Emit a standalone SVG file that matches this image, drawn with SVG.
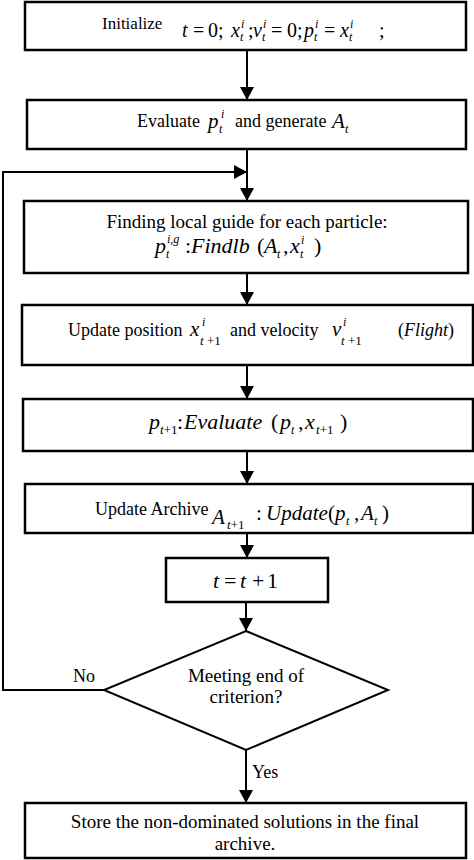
<svg xmlns="http://www.w3.org/2000/svg" width="474" height="860" viewBox="0 0 474 860">
<defs>
<marker id="ah" markerUnits="userSpaceOnUse" markerWidth="14" markerHeight="14" refX="13" refY="7" orient="auto">
<path d="M0,0 L13,7 L0,14 z" fill="#000"/>
</marker>
<style>
.box{fill:#fff;stroke:#000;stroke-width:2.5}
.ln{fill:none;stroke:#000;stroke-width:2}
text{font-family:"Liberation Serif","Times New Roman","DejaVu Serif",serif;fill:#000}
.t{font-size:18px}
.b{font-size:19px}
.m{font-size:21px}
.m2{font-size:22px}
.i{font-style:italic}
.s{font-size:12px;font-style:italic}
.su{font-size:13px}
</style>
</defs>
<rect width="474" height="860" fill="#fff"/>
<g id="connectors">
<line class="ln" x1="247" y1="50" x2="247" y2="100" marker-end="url(#ah)"/>
<line class="ln" x1="247" y1="149" x2="247" y2="201" marker-end="url(#ah)"/>
<polyline class="ln" points="104,690 3,690 3,172 247,172" marker-end="url(#ah)"/>
<line class="ln" x1="247" y1="273" x2="247" y2="305" marker-end="url(#ah)"/>
<line class="ln" x1="247" y1="365" x2="247" y2="399" marker-end="url(#ah)"/>
<line class="ln" x1="247" y1="451" x2="247" y2="484" marker-end="url(#ah)"/>
<line class="ln" x1="247" y1="533" x2="247" y2="558" marker-end="url(#ah)"/>
<line class="ln" x1="246" y1="602" x2="246" y2="631" marker-end="url(#ah)"/>
<line class="ln" x1="246" y1="750" x2="246" y2="803" marker-end="url(#ah)"/>
<text class="t" x="73" y="682">No</text>
<text class="t" x="252" y="778">Yes</text>
</g>
<g id="init">
<rect class="box" x="25" y="2" width="441" height="48"/>
<text class="t" x="102" y="29" style="font-size:17px">Initialize</text>
<g style="font-size:20px">
<text class="i" x="182" y="37">t</text>
<text x="193" y="37">=</text>
<text x="208" y="37">0;</text>
<text class="i" x="231" y="37">x</text>
<text class="s" x="241" y="28">i</text>
<text class="s" x="240" y="41">t</text>
<text x="248" y="37">;</text>
<text class="i" x="253" y="37">v</text>
<text class="s" x="263" y="28">i</text>
<text class="s" x="262" y="41">t</text>
<text x="271" y="37">=</text>
<text x="287" y="37">0;</text>
<text class="i" x="304" y="37">p</text>
<text class="s" x="315" y="28">i</text>
<text class="s" x="314" y="41">t</text>
<text x="324" y="37">=</text>
<text class="i" x="340" y="37">x</text>
<text class="s" x="350" y="28">i</text>
<text class="s" x="349" y="41">t</text>
<text x="379" y="37">;</text>
</g>
</g>
<g id="evaluate">
<rect class="box" x="27" y="100" width="439" height="49"/>
<text class="t" x="137" y="127">Evaluate</text>
<text class="m i" x="208" y="128">p</text>
<text class="s" x="221" y="118">i</text>
<text class="s" x="219" y="133">t</text>
<text class="t" x="235" y="127">and generate</text>
<text class="m i" x="332" y="128">A</text>
<text class="s" x="345" y="133">t</text>
</g>
<g id="findlb">
<rect class="box" x="24" y="201" width="444" height="72"/>
<text class="b" x="247" y="228" text-anchor="middle">Finding local guide for each particle:</text>
<text class="m2 i" x="155" y="253">p</text>
<text class="s" x="167" y="243">i,g</text>
<text class="s" x="166" y="258">t</text>
<text class="m2" x="185" y="253">:</text>
<text class="m2 i" x="191" y="253">Findlb</text>
<text class="m2" x="257" y="253">(</text>
<text class="m2 i" x="264" y="253">A</text>
<text class="s" x="277" y="258">t</text>
<text class="m2" x="283" y="253">,</text>
<text class="m2 i" x="290" y="253">x</text>
<text class="s" x="301" y="244">i</text>
<text class="s" x="300" y="258">t</text>
<text class="m2" x="314" y="253">)</text>
</g>
<g id="flight">
<rect class="box" x="22" y="305" width="451" height="60"/>
<text class="t" x="68" y="336">Update position</text>
<text class="m i" x="190" y="336">x</text>
<text class="s" x="202" y="326">i</text>
<text class="su" x="200" y="345"><tspan class="i">t</tspan> +1</text>
<text class="t" x="230" y="336">and velocity</text>
<text class="m i" x="332" y="336">v</text>
<text class="s" x="343" y="326">i</text>
<text class="su" x="341" y="345"><tspan class="i">t</tspan> +1</text>
<text class="t" x="398" y="336">(<tspan class="i">Flight</tspan>)</text>
</g>
<g id="evalp">
<rect class="box" x="23" y="399" width="450" height="52"/>
<text class="m2 i" x="149" y="429">p</text>
<text class="su" x="160" y="434"><tspan class="i">t</tspan>+1</text>
<text class="m2" x="177" y="429">:</text>
<text class="m2 i" x="184" y="429">Evaluate</text>
<text class="m2" x="271" y="429">(</text>
<text class="m2 i" x="280" y="429">p</text>
<text class="s" x="291" y="434">t</text>
<text class="m2" x="298" y="429">,</text>
<text class="m2 i" x="305" y="429">x</text>
<text class="su" x="316" y="434"><tspan class="i">t</tspan>+1</text>
<text class="m2" x="340" y="429">)</text>
</g>
<g id="archive">
<rect class="box" x="25" y="484" width="448" height="49"/>
<text class="t" x="95" y="515">Update Archive</text>
<text class="m i" x="212" y="524">A</text>
<text class="su" x="227" y="529"><tspan class="i">t</tspan>+1</text>
<text class="m" x="256" y="520">:</text>
<text class="m i" x="266" y="520">Update</text>
<text class="m" x="328" y="520">(</text>
<text class="m i" x="335" y="520">p</text>
<text class="s" x="346" y="525">t</text>
<text class="m" x="354" y="520">,</text>
<text class="m i" x="361" y="520">A</text>
<text class="s" x="374" y="525">t</text>
<text class="m" x="382" y="520">)</text>
</g>
<g id="incr">
<rect class="box" x="166" y="558" width="162" height="44"/>
<g style="font-size:22px">
<text class="i" x="213" y="588">t</text>
<text x="224" y="588">=</text>
<text class="i" x="240" y="588">t</text>
<text x="252" y="588">+</text>
<text x="267" y="588">1</text>
</g>
</g>
<g id="decision">
<polygon points="246,631 388,690 246,750 104,690" fill="#fff" stroke="#000" stroke-width="2"/>
<text class="b" x="246" y="682" text-anchor="middle">Meeting end of</text>
<text class="b" x="246" y="703" text-anchor="middle">criterion?</text>
</g>
<g id="store">
<rect class="box" x="25" y="803" width="441" height="55"/>
<text class="b" x="245" y="828" text-anchor="middle">Store the non-dominated solutions in the final</text>
<text class="b" x="245" y="850" text-anchor="middle">archive.</text>
</g>
</svg>
